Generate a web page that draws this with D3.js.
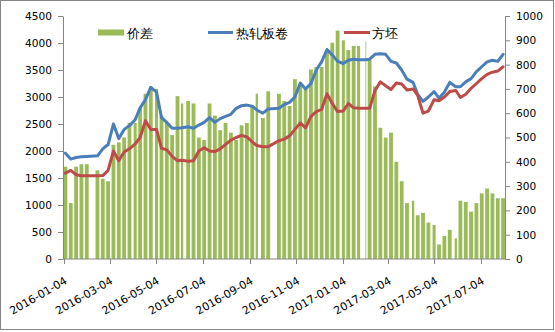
<!DOCTYPE html>
<html>
<head>
<meta charset="utf-8">
<script src="https://cdn.jsdelivr.net/npm/d3@7"></script>
<style>
  body { margin: 0; background: #fff; }
  svg { display: block; }
  text { font-family: "DejaVu Sans", Verdana, sans-serif; fill: #000; }
</style>
</head>
<body>
<svg id="chart" width="555" height="332"></svg>
<script>
// Weekly observations, one per trading week starting Monday 2016-01-04.
const firstWeek = new Date(2016, 0, 4);
const weekCount = 83;

// 热轧板卷 (hot-rolled coil), yuan/t — left axis
const hotRolled = [
  1960, 1850, 1880, 1895, 1900, null, 1910, 2040, 2120, 2500,
  2230, 2400, 2470, 2580, 2800, 2950, 3180, 3090, 2620, 2530,
  2420, 2420, 2430, 2450, 2420, 2480, 2530, 2620, 2530, 2600,
  2640, 2680, 2790, 2840, 2850, 2830, 2760, 2700, 2780, null,
  2790, 2860, 2900, 3000, 3260, 3150, 3250, 3500, 3650, 3880,
  3780, 3660, 3620, 3680, 3700, 3690, 3690, 3700, 3790, 3800,
  3790, 3660, 3630, 3500, 3330, 3270, 3050, 2920, 3000, 3100,
  2980, 3090, 3270, 3190, 3190, 3280, 3340, 3470, 3560, 3650,
  3680, 3660, 3790
];

// 方坯 (billet), yuan/t — left axis
const billet = [
  1590, 1640, 1560, 1540, 1540, null, 1540, 1545, 1640, 2000,
  1820, 1980, 2040, 2130, 2250, 2560, 2400, 2400, 2050, 2020,
  1900, 1820, 1830, 1810, 1820, 2000, 2060, 2000, 1990, 2040,
  2120, 2200, 2250, 2290, 2260, 2170, 2100, 2080, 2080, null,
  2190, 2220, 2280, 2400, 2520, 2430, 2640, 2730, 2770, 3060,
  2880, 2730, 2740, 2880, 2800, 2790, 2790, 2790, 3120, 3280,
  3210, 3140, 3260, 3240, 3130, 3150, 3030, 2700, 2740, 2950,
  2930, 3000, 3100, 3120, 2990, 3050, 3160, 3250, 3340, 3420,
  3460, 3480, 3560
];

// 价差 (spread), yuan/t — right axis
const spread = [
  380, 230, 380, 390, 390, null, 365, 330, 320, 470,
  480, 500, 560, 560, 620, 680, 710, 700, 590, 560,
  510, 670, 640, 650, 640, 500, 490, 640, 590, 530,
  560, 520, 490, 550, 560, 630, 680, 580, 690, null,
  680, 650, 630, 740, 720, 700, 780, 790, 790, 860,
  890, 940, 900, 860, 877, 877, 894, 820, 710, 540,
  500, 520, 400, 320, 230, 240, 180, 190, 150, 140,
  60, 95, 120, 85, 240, 235, 195, 230, 270, 290,
  270, 250, 250
];

// Exchange closures (weekdays with no trading)
const holidays = [
  "2016-02-08", "2016-02-09", "2016-02-10", "2016-02-11", "2016-02-12",
  "2016-04-04", "2016-05-02", "2016-06-09", "2016-06-10",
  "2016-09-15", "2016-09-16",
  "2016-10-03", "2016-10-04", "2016-10-05", "2016-10-06", "2016-10-07",
  "2017-01-02", "2017-01-27", "2017-01-30", "2017-01-31", "2017-02-01", "2017-02-02",
  "2017-04-03", "2017-04-04", "2017-05-01", "2017-05-29", "2017-05-30"
];

const xTickLabels = [
  "2016-01-04", "2016-03-04", "2016-05-04", "2016-07-04", "2016-09-04",
  "2016-11-04", "2017-01-04", "2017-03-04", "2017-05-04", "2017-07-04"
];
const leftTicks = [0, 500, 1000, 1500, 2000, 2500, 3000, 3500, 4000, 4500];
const rightTicks = [0, 100, 200, 300, 400, 500, 600, 700, 800, 900, 1000];

const seriesNames = { spread: "价差", hot: "热轧板卷", billet: "方坯" };
const colors = { spread: "#9bbb59", hot: "#4a7ebb", billet: "#be4b48", axis: "#868686" };

const parse = d3.timeParse("%Y-%m-%d");
const fmt = d3.timeFormat("%Y-%m-%d");
const holidaySet = new Set(holidays);

// Build the weekly records: trading days of each week plus the three values.
const weeks = d3.range(weekCount).map(i => {
  const monday = d3.timeDay.offset(firstWeek, i * 7);
  const days = d3.range(5)
    .map(k => d3.timeDay.offset(monday, k))
    .filter(d => !holidaySet.has(fmt(d)));
  return { days, hot: hotRolled[i], billet: billet[i], spread: spread[i] };
}).filter(w => w.days.length > 0 && w.hot != null);

const svg = d3.select("#chart");

// Outer chart frame
svg.append("rect")
  .attr("x", 0.5).attr("y", 0.5).attr("width", 553).attr("height", 329)
  .attr("fill", "#fff").attr("stroke", colors.axis).attr("stroke-width", 1);

const plot = { left: 63, right: 505, top: 16, bottom: 259 };

// Date axis: each trading day owns a one-day slot [day, day + 1).
const x = d3.scaleTime()
  .domain([parse("2016-01-04"), parse("2017-08-05")])
  .range([plot.left + 0.5, plot.right]);
const dayCenter = d => x(d3.timeHour.offset(d, 12));

const yLeft = d3.scaleLinear().domain([0, 4500]).range([plot.bottom, plot.top]);
const yRight = d3.scaleLinear().domain([0, 1000]).range([plot.bottom, plot.top]);

// Spread bars (one per trading week, spanning its trading days)
svg.append("g").selectAll("rect")
  .data(weeks)
  .join("rect")
  .attr("x", d => x(d.days[0]))
  .attr("width", d => x(d3.timeDay.offset(d.days[d.days.length - 1], 1)) - x(d.days[0]))
  .attr("y", d => yRight(d.spread))
  .attr("height", d => yRight(0) - yRight(d.spread))
  .attr("fill", colors.spread);

// Price lines
const midX = d => (dayCenter(d.days[0]) + dayCenter(d.days[d.days.length - 1])) / 2;
const lineFor = key => d3.line().x(midX).y(d => yLeft(d[key]));

svg.append("path").datum(weeks)
  .attr("d", lineFor("hot"))
  .attr("fill", "none").attr("stroke", colors.hot)
  .attr("stroke-width", 3).attr("stroke-linejoin", "round").attr("stroke-linecap", "round");

svg.append("path").datum(weeks)
  .attr("d", lineFor("billet"))
  .attr("fill", "none").attr("stroke", colors.billet)
  .attr("stroke-width", 3).attr("stroke-linejoin", "round").attr("stroke-linecap", "round");

// Axes
function styleAxis(g) {
  g.selectAll(".domain, .tick line").attr("stroke", colors.axis);
  g.selectAll(".tick text").attr("font-size", "10.6px").attr("fill", "#000")
    .attr("font-family", '"DejaVu Sans", Verdana, sans-serif');
}

svg.append("g")
  .attr("transform", `translate(${plot.left},0)`)
  .call(d3.axisLeft(yLeft).tickValues(leftTicks).tickFormat(d3.format("d"))
    .tickSize(5).tickSizeOuter(0).tickPadding(6))
  .call(styleAxis);

svg.append("g")
  .attr("transform", `translate(${plot.right},0)`)
  .call(d3.axisRight(yRight).tickValues(rightTicks).tickFormat(d3.format("d"))
    .tickSize(5).tickSizeOuter(0).tickPadding(6))
  .call(styleAxis);

const xTickDates = xTickLabels.map(parse);
const xAxis = svg.append("g")
  .attr("transform", `translate(0,${plot.bottom})`);
xAxis.append("line")
  .attr("x1", plot.left).attr("x2", plot.right)
  .attr("stroke", colors.axis);
xAxis.selectAll("line.tick")
  .data(xTickDates)
  .join("line")
  .attr("class", "tick")
  .attr("x1", d => Math.round(dayCenter(d)) + 0.5).attr("x2", d => Math.round(dayCenter(d)) + 0.5)
  .attr("y1", 0).attr("y2", 5)
  .attr("stroke", colors.axis);
xAxis.selectAll("text")
  .data(xTickDates)
  .join("text")
  .attr("transform", d => `translate(${dayCenter(d) + 4},${24}) rotate(-30)`)
  .attr("text-anchor", "end")
  .attr("font-size", "11px")
  .text(d => fmt(d));

// Legend
const legend = svg.append("g").attr("font-size", "12.5px");
legend.append("rect").attr("x", 98).attr("y", 29.5).attr("width", 26).attr("height", 6).attr("fill", colors.spread);
legend.append("text").attr("x", 127).attr("y", 37.5).text(seriesNames.spread)
  .attr("font-family", '"Noto Sans CJK SC", sans-serif');
legend.append("line").attr("x1", 208).attr("x2", 233).attr("y1", 32.5).attr("y2", 32.5)
  .attr("stroke", colors.hot).attr("stroke-width", 3);
legend.append("text").attr("x", 236).attr("y", 37.5).text(seriesNames.hot)
  .attr("font-family", '"Noto Sans CJK SC", sans-serif');
legend.append("line").attr("x1", 344).attr("x2", 370).attr("y1", 32.5).attr("y2", 32.5)
  .attr("stroke", colors.billet).attr("stroke-width", 3);
legend.append("text").attr("x", 372).attr("y", 37.5).text(seriesNames.billet)
  .attr("font-family", '"Noto Sans CJK SC", sans-serif');
</script>
</body>
</html>
